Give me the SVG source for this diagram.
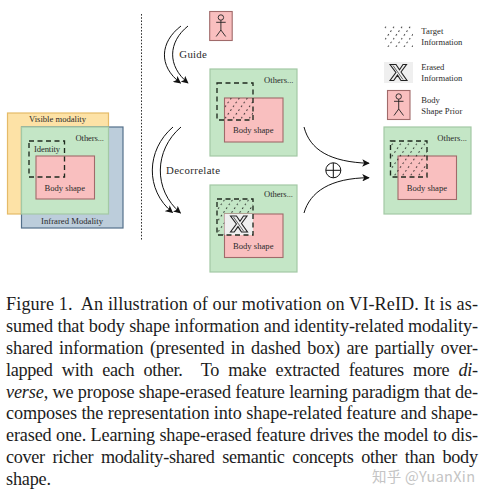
<svg xmlns="http://www.w3.org/2000/svg" width="488" height="497" viewBox="0 0 488 497">
<style>
text{font-family:"Liberation Serif","Times New Roman",serif;fill:#2a2a2a}
.l{font-size:8.6px}
.g{font-size:10.8px}
.c{font-size:18.2px;fill:#1c1c1c;white-space:pre}
.green{fill:#c4e6c6;stroke:#a3c9a5;stroke-width:1.2}
.pink{fill:#f9bfbf;stroke:#a06a6a;stroke-width:1.1}
.dash{fill:none;stroke:#1f2a1f;stroke-width:1.35;stroke-dasharray:5 3.5}
.wire{fill:none;stroke:#111;stroke-width:1}
.stick{fill:none;stroke:#222;stroke-width:.9}
</style>
<defs>
<marker id="a" viewBox="0 0 10 10" refX="9" refY="5" markerWidth="7.5" markerHeight="7.5" orient="auto" markerUnits="userSpaceOnUse"><path d="M0 0L10 5L0 10L2.5 5Z" fill="#111"/></marker>
<pattern id="h" width="4.6" height="6.6" patternUnits="userSpaceOnUse" patternTransform="rotate(-55)"><path d="M0 1.5H1.8" stroke="#1a1a1a" stroke-width=".8"/></pattern>
<g id="person"><rect class="pink" x="0" y="0" width="22.5" height="29"/><g class="stick"><circle cx="11.2" cy="6" r="2.7"/><path d="M11.2 8.7V18.5M6.5 10.8H16M11.2 18.5L6.5 25M11.2 18.5L16 25"/></g></g>
<g id="xicon"><path d="M-8.5-8H-2.5L1-2.8L4.5-8H8L2.5-.5L8.5 8H2.5L-1 2.6L-4.8 8H-8.5L-2.6 0Z" fill="#efefef" stroke="#222" stroke-width="1.1"/><path d="M-5.5-7L4.5 7" stroke="#222" stroke-width=".7"/></g>
</defs>

<g id="connectors">
<path d="M141.5 14V240" fill="none" stroke="#333" stroke-width="1" stroke-dasharray="1.6 1.6"/>
<path class="wire" marker-end="url(#a)" d="M181 26C160 42 158 66 180.5 83"/>
<path class="wire" marker-end="url(#a)" d="M188 26C168 42 167 66 188 83"/>
<path class="wire" marker-end="url(#a)" d="M181 127C154 150 153 190 180.5 213"/>
<path class="wire" marker-end="url(#a)" d="M173 127C146 150 145 190 172.5 212.5"/>
<path class="wire" stroke-width="1.1" marker-end="url(#a)" d="M304 127C310 150 330 162 369 163.3"/>
<path class="wire" stroke-width="1.1" marker-end="url(#a)" d="M304 213C310 192 330 178 369 177.7"/>
</g>

<g id="venn">
<rect x="7.5" y="113" width="101" height="101" fill="#fde2a6" stroke="#e5bb68" stroke-width="1.2"/>
<rect x="21.5" y="127" width="101.5" height="101" fill="#bccddb" stroke="#54708a" stroke-width="1.2"/>
<rect class="green" x="21.5" y="127" width="87" height="87"/>
<rect class="pink" x="36" y="156" width="58.5" height="43"/>
<rect class="dash" x="29" y="141" width="35.5" height="36"/>
<text class="l" x="29" y="121.7" textLength="57">Visible modality</text>
<text class="l" x="75.5" y="140.7" textLength="28.5">Others...</text>
<text class="l" x="34" y="151.7" textLength="26">Identity</text>
<text class="l" x="44.5" y="191" textLength="40.5">Body shape</text>
<text class="l" x="41" y="223.7" textLength="62">Infrared Modality</text>
</g>

<g id="prior"><use href="#person" x="209.7" y="11.5"/></g>
<g id="guide-label"><text class="g" x="179.3" y="58.3" textLength="27.5">Guide</text></g>
<g id="decorrelate-label"><text class="g" x="166" y="174.3" textLength="54">Decorrelate</text></g>

<g id="shape-feature">
<rect class="green" x="210" y="69" width="87" height="87"/>
<rect class="pink" x="224.5" y="98" width="58.5" height="44"/>
<rect x="224.5" y="98" width="28.5" height="22" fill="url(#h)"/>
<rect class="dash" x="217" y="83" width="36" height="37"/>
<text class="l" x="264" y="82.7" textLength="29.5">Others...</text>
<text class="l" x="233" y="133" textLength="40.5">Body shape</text>
</g>

<g id="erased-feature">
<rect class="green" x="210" y="185" width="87" height="87"/>
<rect class="pink" x="224.5" y="214" width="58.5" height="43.5"/>
<rect x="217" y="199" width="36" height="36" fill="url(#h)"/>
<rect x="224.5" y="214" width="28.5" height="21" fill="#efefef"/>
<rect class="dash" x="217" y="199" width="36" height="36"/>
<use href="#xicon" x="239" y="224"/>
<text class="l" x="264" y="197.3" textLength="29">Others...</text>
<text class="l" x="233" y="249" textLength="40.5">Body shape</text>
</g>

<g id="plus">
<circle cx="333.3" cy="170.3" r="7.5" fill="none" stroke="#111" stroke-width="1"/>
<path d="M325.8 170.3H340.8M333.3 162.8V177.8" stroke="#111" stroke-width="1"/>
</g>

<g id="result">
<rect class="green" x="384" y="127" width="87" height="87"/>
<rect class="pink" x="398" y="156" width="58.5" height="43.5"/>
<rect x="390.5" y="141" width="36.5" height="36" fill="url(#h)"/>
<rect class="dash" x="390.5" y="141" width="36.5" height="36"/>
<text class="l" x="437.3" y="140.7" textLength="29.7">Others...</text>
<text class="l" x="406.7" y="191" textLength="40.3">Body shape</text>
</g>

<g id="legend">
<rect x="384" y="26" width="29" height="21" fill="url(#h)"/>
<rect x="384" y="62" width="29" height="21" fill="#efefef"/>
<use href="#xicon" x="398.5" y="72.5"/>
<use href="#person" x="387.5" y="90.5"/>
<text class="l" x="421.3" y="34" textLength="22">Target</text>
<text class="l" x="421.3" y="45" textLength="41">Information</text>
<text class="l" x="421.3" y="70" textLength="23">Erased</text>
<text class="l" x="421.3" y="81" textLength="41">Information</text>
<text class="l" x="421.3" y="103.3" textLength="18.5">Body</text>
<text class="l" x="421.3" y="114" textLength="41">Shape Prior</text>
</g>

<g id="caption">
<text class="c" x="6" y="310" textLength="472">Figure 1.  An illustration of our motivation on VI-ReID. It is as-</text>
<text class="c" x="6" y="332" textLength="472">sumed that body shape information and identity-related modality-</text>
<text class="c" x="6" y="353.7" textLength="472" word-spacing="2">shared information (presented in dashed box) are partially over-</text>
<text class="c" x="6" y="375.5" textLength="472" word-spacing="5">lapped with each other.  To make extracted features more <tspan font-style="italic">di-</tspan></text>
<text class="c" x="6" y="397.5" textLength="472"><tspan font-style="italic">verse</tspan>, we propose shape-erased feature learning paradigm that de-</text>
<text class="c" x="6" y="419.3" textLength="472">composes the representation into shape-related feature and shape-</text>
<text class="c" x="6" y="441.2" textLength="472">erased one. Learning shape-erased feature drives the model to dis-</text>
<text class="c" x="6" y="463" textLength="472" word-spacing="3.5">cover richer modality-shared semantic concepts other than body</text>
<text class="c" x="6" y="485" textLength="45">shape.</text>
</g>

<g id="watermark"><text x="372" y="482" textLength="103" style="font-family:'Noto Sans CJK SC','Liberation Sans',sans-serif;font-size:14.5px;fill:#c4c4c4">知乎 @YuanXin</text></g>
</svg>
